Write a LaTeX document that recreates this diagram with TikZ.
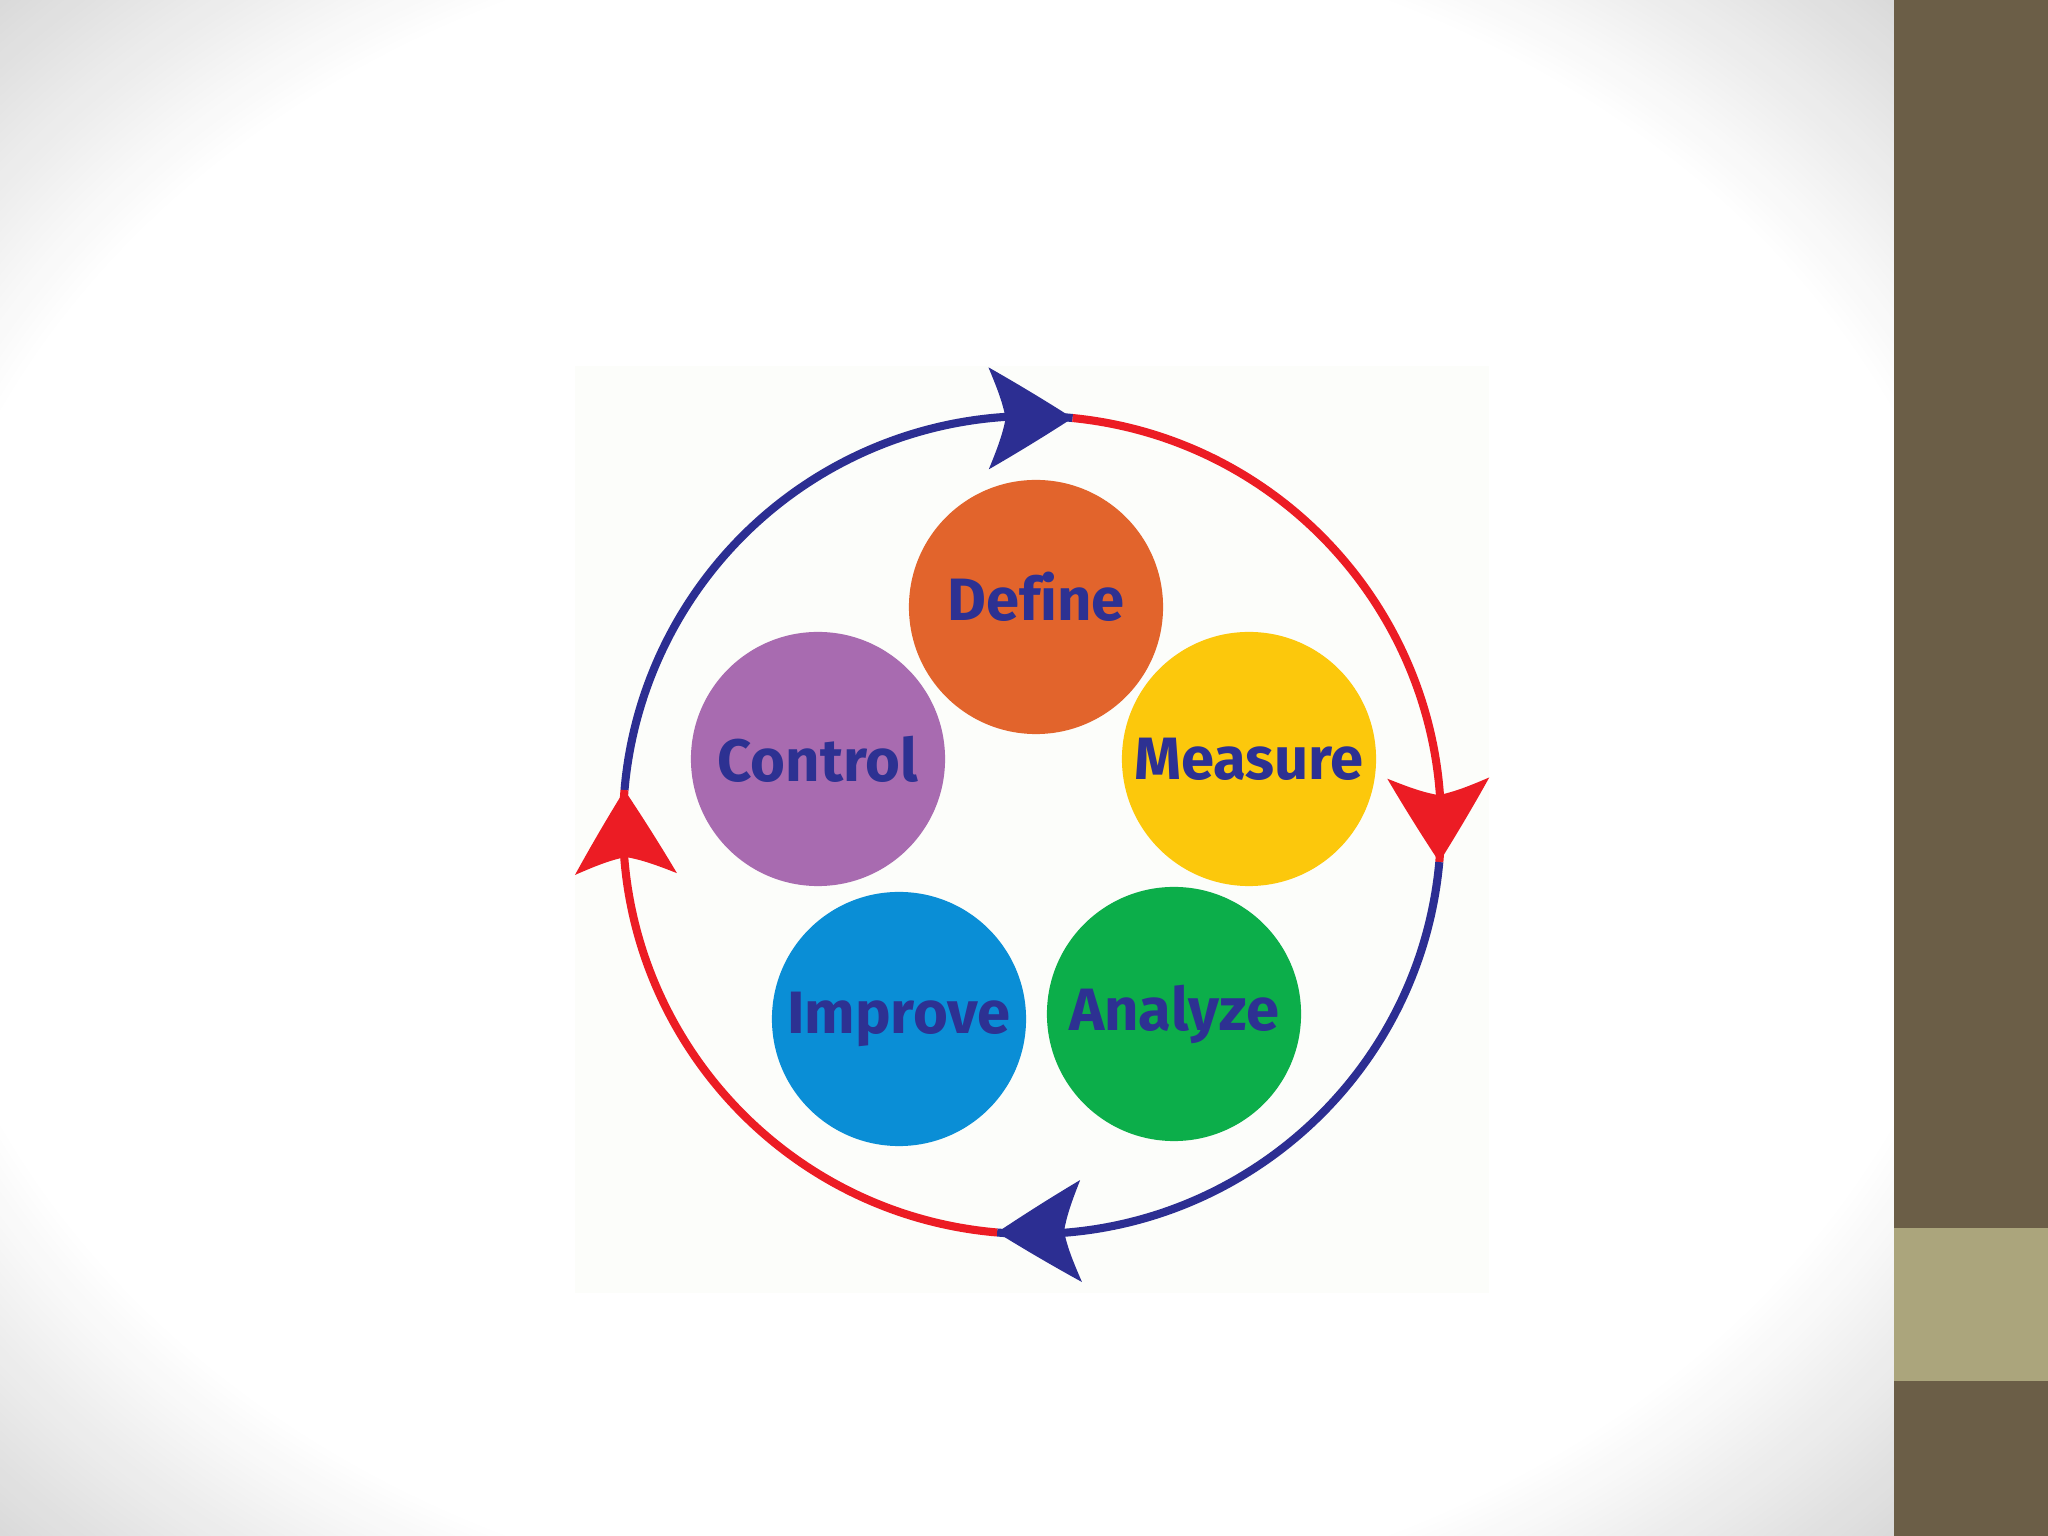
\documentclass[tikz,border=0pt]{standalone}
\usepackage{fontspec}
\setmainfont{Fira Sans}
\definecolor{vgrey}{RGB}{218,218,218}
\definecolor{photobg}{RGB}{252,253,250}
\definecolor{banddark}{RGB}{107,94,71}
\definecolor{bandlight}{RGB}{171,165,124}
\definecolor{arcblue}{RGB}{44,46,146}
\definecolor{arcred}{RGB}{236,28,36}
\definecolor{txtblue}{RGB}{45,49,146}
\definecolor{cdefine}{RGB}{226,100,44}
\definecolor{cmeasure}{RGB}{252,200,12}
\definecolor{canalyze}{RGB}{12,174,74}
\definecolor{cimprove}{RGB}{10,142,214}
\definecolor{ccontrol}{RGB}{168,107,176}
\tikzset{
  stage/.style={circle, minimum size=2.54cm, inner sep=0pt, text=txtblue,
    font=\bfseries\fontsize{17}{20}\selectfont},
  ringarc/.style={line width=2.3pt},
  headshape/.pic={
    \fill (0,0) .. controls (-28,-18) and (-56,-35) .. (-84,-51)
      .. controls (-77,-34) and (-70,-17) .. (-67,0)
      .. controls (-70,17) and (-77,34) .. (-84,51)
      .. controls (-56,35) and (-28,18) .. (0,0) -- cycle;
  }
}
\begin{document}
\begin{tikzpicture}[x=0.01cm,y=0.01cm]
\useasboundingbox (0,0) rectangle (2048,1536);
% background with vignette
\begin{scope}
  \clip (0,0) rectangle (1894,1536);
  \fill[vgrey] (0,0) rectangle (1894,1536);
  \foreach \i in {0,...,40}{
    \pgfmathsetmacro{\f}{1.0-0.22*\i/40}
    \pgfmathsetmacro{\p}{100*\i/40}
    \fill[white!\p!vgrey] (947,768) ellipse [x radius=1339*\f, y radius=1086*\f];
  }
\end{scope}
% right band
\fill[banddark] (1894,0) rectangle (2048,1536);
\fill[bandlight] (1894,155) rectangle (2048,308);
% photo area
\fill[photobg] (575,243) rectangle (1489,1170);
% ring
\coordinate (C) at (1032,711);
\coordinate (tipT) at ([shift={(84.3:409)}]C);
\coordinate (tipR) at ([shift={(-5.2:409)}]C);
\coordinate (tipB) at ([shift={(-94.9:409)}]C);
\coordinate (tipL) at ([shift={(175.1:409)}]C);
\draw[ringarc, arcblue] (tipL) arc[start angle=175.1, end angle=84.3, radius=409];
\draw[ringarc, arcred] (tipT) arc[start angle=84.3, end angle=-5.2, radius=409];
\draw[ringarc, arcblue] (tipR) arc[start angle=-5.2, end angle=-94.9, radius=409];
\draw[ringarc, arcred] (tipB) arc[start angle=-94.9, end angle=-184.9, radius=409];
\pic[arcblue, rotate=0.2] at (tipT) {headshape};
\pic[arcred, rotate=-89.3] at (tipR) {headshape};
\pic[arcblue, rotate=-179] at (tipB) {headshape};
\pic[arcred, rotate=91] at (tipL) {headshape};
% stages
\node[stage, fill=cdefine, text depth=0.22cm] (define) at (1036,929) {Def\kern0pt ine};
\node[stage, fill=cmeasure] (measure) at (1249,777) {Measure};
\node[stage, fill=canalyze] (analyze) at (1174,522) {Analyze};
\node[stage, fill=cimprove] (improve) at (899,517) {Improve};
\node[stage, fill=ccontrol] (control) at (818,777) {Control};
\end{tikzpicture}
\end{document}
